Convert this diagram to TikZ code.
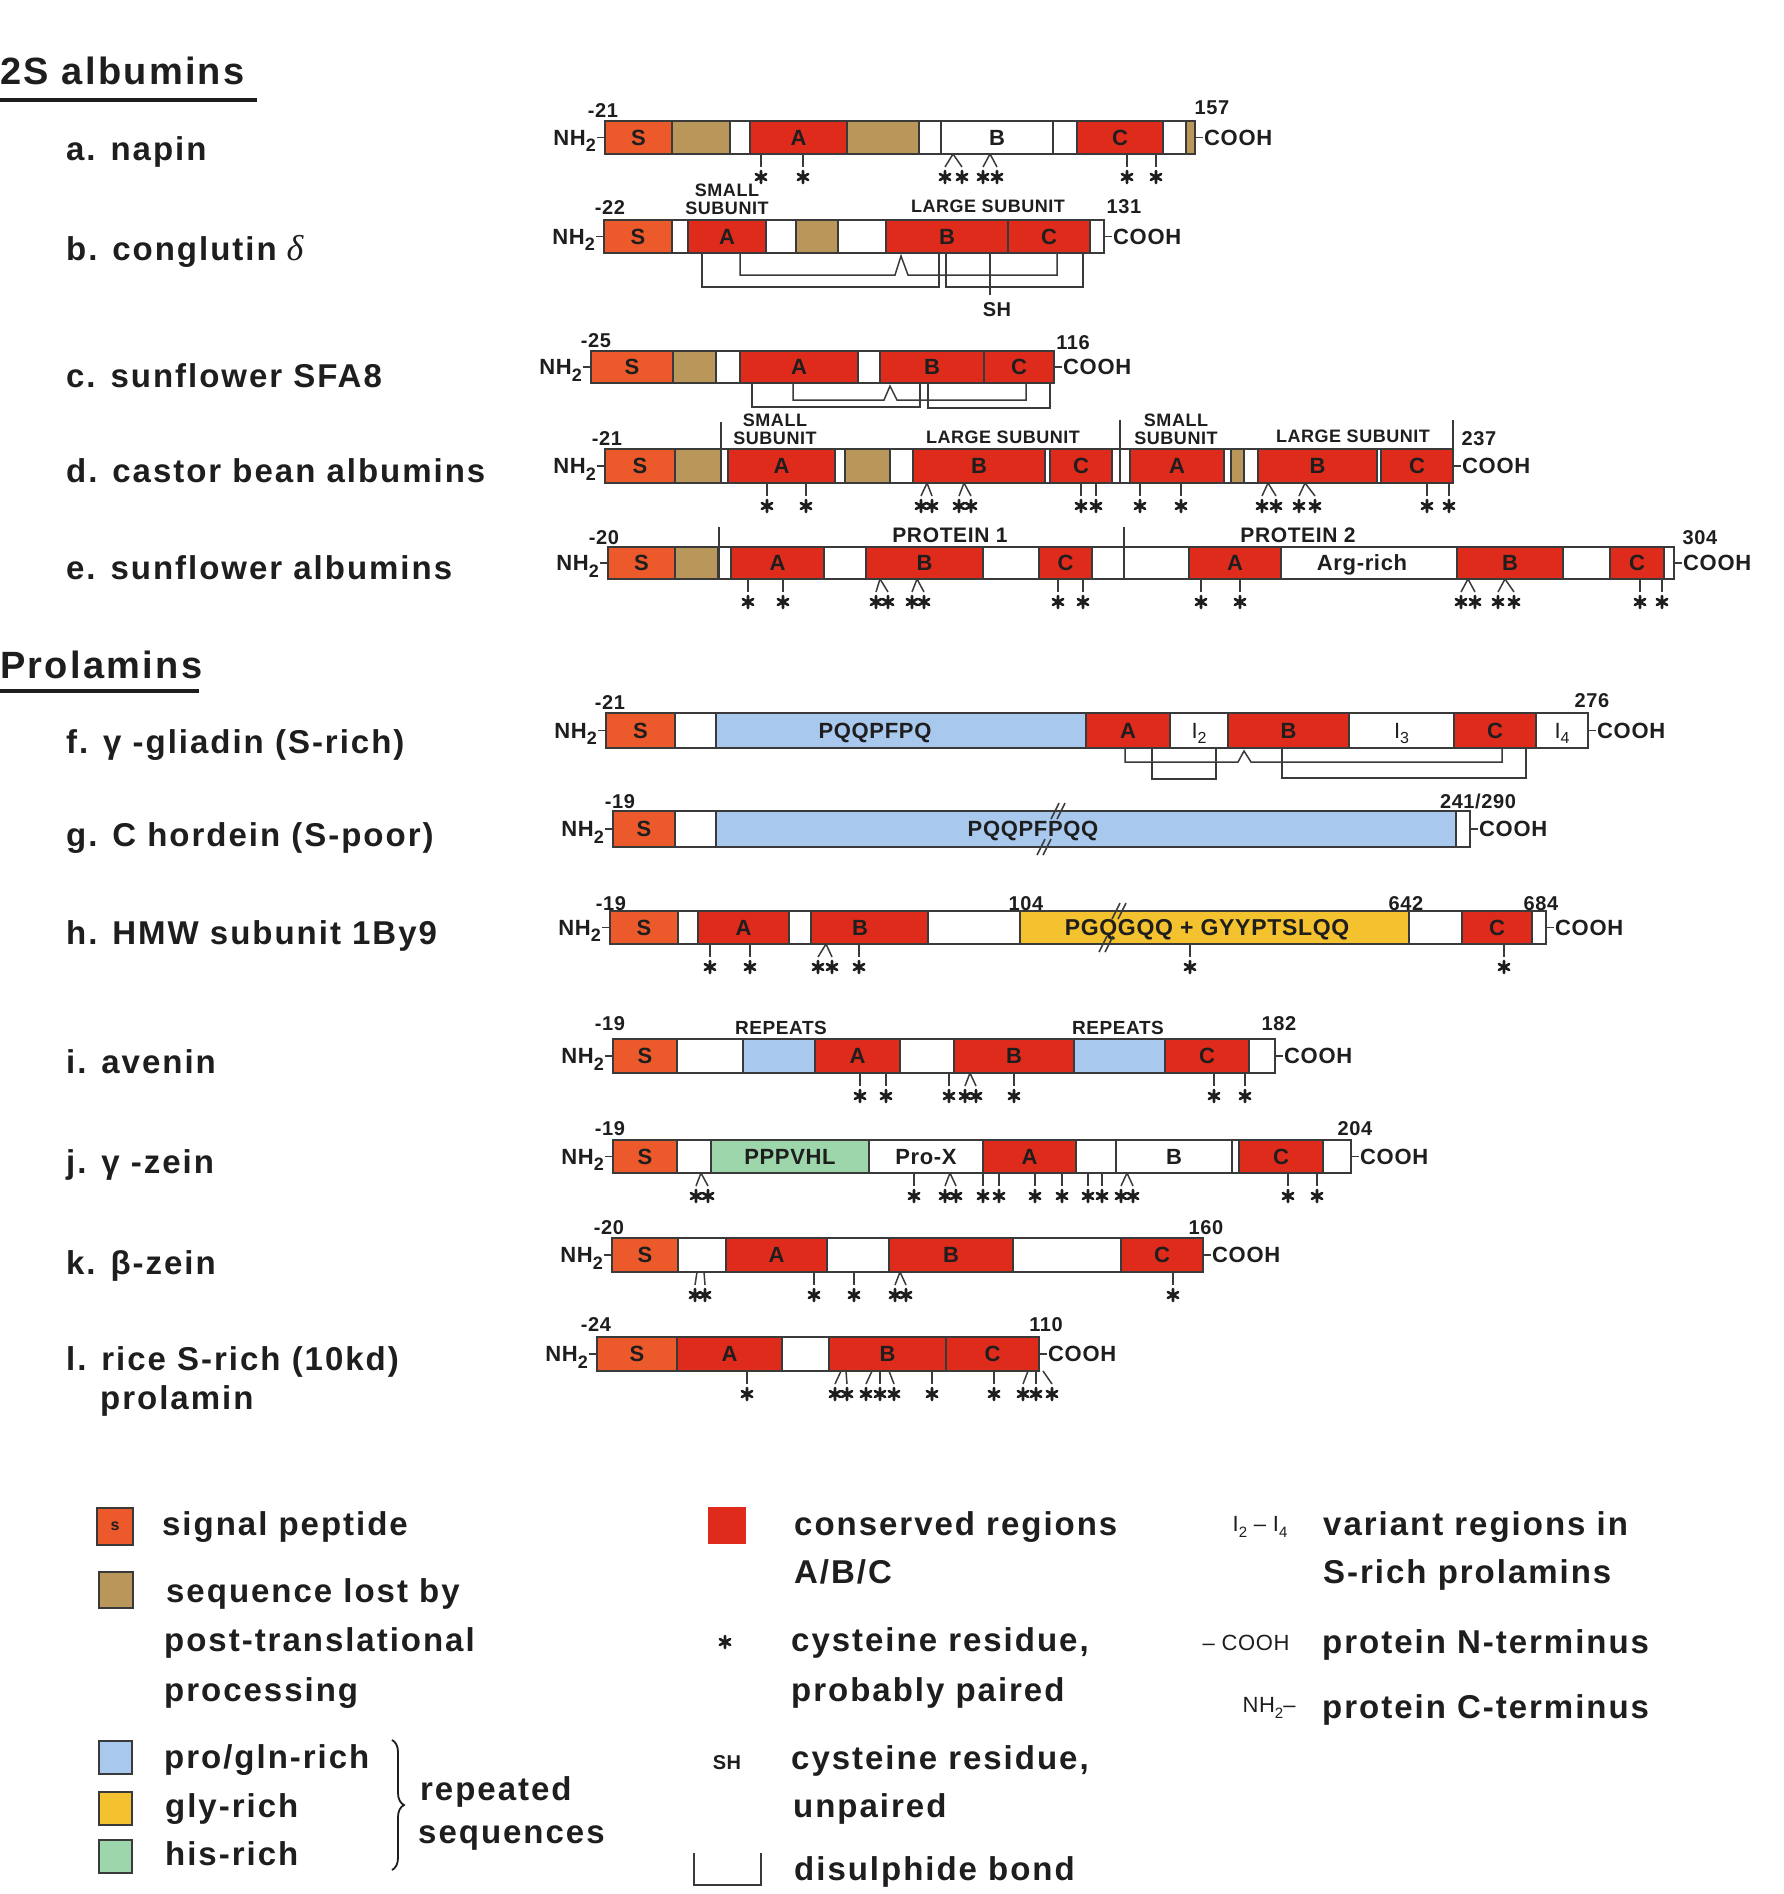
\documentclass[tikz,border=0pt]{standalone}
\usepackage{fontspec}
\setmainfont{Liberation Sans}
\newfontfamily\labfont{Liberation Sans}[LetterSpace=6]
\newfontfamily\barfont{Liberation Sans}[LetterSpace=3]
\newfontfamily\grkfont{Liberation Serif}
\usetikzlibrary{decorations.pathreplacing}

\definecolor{ink}{HTML}{1E1E1E}
\definecolor{ol}{HTML}{3A3A3A}
\definecolor{sig}{HTML}{EC5A2C}
\definecolor{con}{HTML}{DF2B1B}
\definecolor{tanc}{HTML}{B9975B}
\definecolor{blu}{HTML}{A8C8EE}
\definecolor{yel}{HTML}{F4C22E}
\definecolor{grn}{HTML}{9DD6AA}

\newcounter{nn}
\newcommand\setrow[2]{\def\yt{#1}\def\yb{#2}\pgfmathsetmacro\yc{(#1+#2)/2}}
\newcommand\segm[4]{\filldraw[segst, fill=#1] (#2,\yt) rectangle (#3,\yb);
  \ifx\relax#4\relax\else\stepcounter{nn}\node[btx] (t\arabic{nn}) at ({(#2+#3)/2},\yc) {#4};\fi}
\newcommand\starat[2]{\begin{scope}[shift={(#1,#2)}]\draw[stl] (90:6) -- (270:6) (30:6) -- (210:6) (150:6) -- (330:6);\end{scope}}
\newcommand\cys[2]{\draw[cyl] (#1,\yb) -- (#2,\yb+13); \starat{#2}{\yb+23}}
\newcommand\termL[1]{\stepcounter{nn}\node[btx, anchor=east, inner sep=1pt] (nh\arabic{nn}) at (#1-8,\yc) {NH\raisebox{-0.28em}{\fontsize{18}{18}\selectfont 2}};
  \draw[cyl] (nh\arabic{nn}.east) -- (#1,\yc);}
\newcommand\termR[1]{\stepcounter{nn}\node[btx, anchor=west, inner sep=1pt] (co\arabic{nn}) at (#1+8,\yc) {COOH};
  \draw[cyl] (#1,\yc) -- (co\arabic{nn}.west);}
\newcommand\numlab[3]{\stepcounter{nn}\node[nmf] (nm\arabic{nn}) at (#1,#2) {#3};}
\newcommand\brkmark[2]{\draw[ol, line width=1.6pt] (#1-7,#2+8) -- (#1+1,#2-8) (#1-1,#2+8) -- (#1+7,#2-8);}

\tikzset{
  segst/.style={draw=ol, line width=1.8pt},
  btx/.style={font=\barfont\bfseries\fontsize{22}{22}\selectfont, text=ink, inner sep=0pt, text height=15.7pt, text depth=0pt},
  nmf/.style={font=\barfont\bfseries\fontsize{20}{20}\selectfont, text=ink, inner sep=0pt, text height=14.3pt, text depth=0pt},
  sub/.style={font=\barfont\bfseries\fontsize{18}{18}\selectfont, text=ink, inner sep=0pt, align=center},
  lab/.style={font=\labfont\bfseries\fontsize{33}{38}\selectfont, text=ink, anchor=mid west, inner sep=0pt, yshift=-8pt},
  hdr/.style={font=\labfont\bfseries\fontsize{38}{42}\selectfont, text=ink, anchor=mid west, inner sep=0pt, yshift=-10pt},
  sml/.style={font=\barfont\fontsize{22}{22}\selectfont, text=ink, inner sep=0pt},
  cyl/.style={draw=ol, line width=1.5pt},
  stl/.style={draw=ink, line width=2.6pt, line cap=round},
  bd/.style={draw=ol, line width=1.5pt},
}

\begin{document}
\begin{tikzpicture}[x=1pt, y=-1pt]
\useasboundingbox (0,0) rectangle (1783,1894);
\fill[white] (0,0) rectangle (1783,1894);

% ---------- headings and labels
\node[hdr] (h1) at (0,72) {2S albumins};
\draw[ink, line width=4pt] (0,100) -- (257,100);
\node[hdr] (h2) at (0,666) {Prolamins};
\draw[ink, line width=4pt] (0,691) -- (199,691);

\node[lab] (la) at (66,150) {a. napin};
\node[lab] (lb) at (66,250) {b. conglutin\hspace{10pt}{\grkfont\itshape\mdseries\fontsize{36}{36}\selectfont δ}};
\node[lab] (lc) at (66,377) {c. sunflower SFA8};
\node[lab] (ld) at (66,472) {d. castor bean albumins};
\node[lab] (le) at (66,569) {e. sunflower albumins};
\node[lab] (lf) at (66,743) {f. γ -gliadin (S-rich)};
\node[lab] (lg) at (66,836) {g. C hordein (S-poor)};
\node[lab] (lh) at (66,934) {h. HMW subunit 1By9};
\node[lab] (li) at (66,1063) {i. avenin};
\node[lab] (lj) at (66,1163) {j. γ -zein};
\node[lab] (lk) at (66,1264) {k. β-zein};
\node[lab] (ll) at (66,1360) {l. rice S-rich (10kd)};
\node[lab] (ll2) at (100,1399) {prolamin};

% ---------- a. napin
\setrow{121}{154}
\termL{605}
\segm{sig}{605}{672}{S}
\segm{tanc}{672}{730}{}
\segm{white}{730}{750}{}
\segm{con}{750}{847}{A}
\segm{tanc}{847}{919}{}
\segm{white}{919}{941}{}
\segm{white}{941}{1053}{B}
\segm{white}{1053}{1077}{}
\segm{con}{1077}{1163}{C}
\segm{white}{1163}{1186}{}
\segm{tanc}{1186}{1195}{}
\termR{1195}
\numlab{603}{110}{-21}
\numlab{1212}{107}{157}
\cys{761}{761}\cys{803}{803}
\cys{953}{945}\cys{953}{962}
\cys{990}{983}\cys{990}{997}
\cys{1127}{1127}\cys{1156}{1156}

% ---------- b. conglutin delta
\setrow{220}{253}
\termL{604}
\segm{sig}{604}{672}{S}
\segm{white}{672}{688}{}
\segm{con}{688}{766}{A}
\segm{white}{766}{796}{}
\segm{tanc}{796}{838}{}
\segm{white}{838}{886}{}
\segm{con}{886}{1008}{B}
\segm{con}{1008}{1090}{C}
\segm{white}{1090}{1104}{}
\termR{1104}
\numlab{610}{207}{-22}
\node[sub] (sb1) at (727,199) {SMALL\\SUBUNIT};
\node[sub] (lb1) at (988,206) {LARGE SUBUNIT};
\numlab{1124}{206}{131}
\draw[bd] (702,\yb) -- (702,287) -- (939,287) -- (939,\yb);
\draw[bd] (740,\yb) -- (740,275) -- (895,275) -- (901,256) -- (908,275) -- (1057,275) -- (1057,\yb);
\draw[bd] (946,\yb) -- (946,287) -- (1083,287) -- (1083,\yb);
\draw[bd] (990,\yb) -- (990,295);
\node[nmf] (sh) at (997,309) {SH};

% ---------- c. sunflower SFA8
\setrow{351}{383}
\termL{591}
\segm{sig}{591}{673}{S}
\segm{tanc}{673}{716}{}
\segm{white}{716}{740}{}
\segm{con}{740}{858}{A}
\segm{white}{858}{880}{}
\segm{con}{880}{984}{B}
\segm{con}{984}{1054}{C}
\termR{1054}
\numlab{596}{340}{-25}
\numlab{1073}{342}{116}
\draw[bd] (752,\yb) -- (752,407) -- (920,407) -- (920,\yb);
\draw[bd] (793,\yb) -- (793,400) -- (884,400) -- (890,386) -- (897,400) -- (1026,400) -- (1026,\yb);
\draw[bd] (928,\yb) -- (928,408) -- (1050,408) -- (1050,\yb);

% ---------- d. castor bean albumins
\setrow{449}{483}
\termL{605}
\segm{sig}{605}{675}{S}
\segm{tanc}{675}{721}{}
\segm{white}{721}{728}{}
\segm{con}{728}{835}{A}
\segm{white}{835}{845}{}
\segm{tanc}{845}{890}{}
\segm{white}{890}{913}{}
\segm{con}{913}{1045}{B}
\segm{white}{1045}{1050}{}
\segm{con}{1050}{1112}{C}
\segm{white}{1112}{1120}{}
\segm{white}{1120}{1130}{}
\segm{con}{1130}{1224}{A}
\segm{white}{1224}{1231}{}
\segm{tanc}{1231}{1244}{}
\segm{white}{1244}{1258}{}
\segm{con}{1258}{1377}{B}
\segm{white}{1377}{1381}{}
\segm{con}{1381}{1453}{C}
\termR{1453}
\draw[bd] (721,422) -- (721,\yb);
\draw[bd] (1120,420) -- (1120,\yb);
\draw[bd] (1453,420) -- (1453,\yb);
\numlab{607}{438}{-21}
\numlab{1479}{438}{237}
\node[sub] (sb2) at (775,429) {SMALL\\SUBUNIT};
\node[sub] (sb3) at (1176,429) {SMALL\\SUBUNIT};
\node[sub] (lb2) at (1003,437) {LARGE SUBUNIT};
\node[sub] (lb3) at (1353,436) {LARGE SUBUNIT};
\cys{767}{767}\cys{806}{806}
\cys{927}{921}\cys{927}{932}\cys{964}{959}\cys{964}{971}
\cys{1081}{1081}\cys{1096}{1096}
\cys{1140}{1140}\cys{1181}{1181}
\cys{1268}{1262}\cys{1268}{1276}\cys{1305}{1299}\cys{1305}{1315}
\cys{1427}{1427}\cys{1449}{1449}

% ---------- e. sunflower albumins
\setrow{547}{579}
\termL{608}
\segm{sig}{608}{675}{S}
\segm{tanc}{675}{718}{}
\segm{white}{718}{731}{}
\segm{con}{731}{824}{A}
\segm{white}{824}{866}{}
\segm{con}{866}{983}{B}
\segm{white}{983}{1039}{}
\segm{con}{1039}{1092}{C}
\segm{white}{1092}{1124}{}
\segm{white}{1124}{1189}{}
\segm{con}{1189}{1281}{A}
\segm{white}{1281}{1457}{}
\node[btx] (arg) at (1362,\yc) {Arg-rich};
\segm{con}{1457}{1563}{B}
\segm{white}{1563}{1610}{}
\segm{con}{1610}{1664}{C}
\segm{white}{1664}{1674}{}
\termR{1674}
\draw[bd] (719,527) -- (719,\yb);
\draw[bd] (1124,527) -- (1124,\yb);
\numlab{604}{537}{-20}
\numlab{1700}{537}{304}
\node[sub, font=\barfont\bfseries\fontsize{21}{21}\selectfont] (p1) at (950,535) {PROTEIN 1};
\node[sub, font=\barfont\bfseries\fontsize{21}{21}\selectfont] (p2) at (1298,535) {PROTEIN 2};
\cys{748}{748}\cys{783}{783}
\cys{880}{876}\cys{880}{888}\cys{917}{912}\cys{917}{924}
\cys{1058}{1058}\cys{1083}{1083}
\cys{1201}{1201}\cys{1240}{1240}
\cys{1468}{1461}\cys{1468}{1475}\cys{1505}{1498}\cys{1505}{1514}
\cys{1640}{1640}\cys{1662}{1662}

% ---------- f. gamma-gliadin
\setrow{713}{748}
\termL{606}
\segm{sig}{606}{675}{S}
\segm{white}{675}{716}{}
\segm{blu}{716}{1086}{}
\node[btx] (pq1) at (875,\yc) {PQQPFPQ};
\segm{con}{1086}{1170}{A}
\segm{white}{1170}{1228}{\mdseries I\raisebox{-0.25em}{\fontsize{16}{16}\selectfont 2}}
\segm{con}{1228}{1349}{B}
\segm{white}{1349}{1454}{\mdseries I\raisebox{-0.25em}{\fontsize{16}{16}\selectfont 3}}
\segm{con}{1454}{1536}{C}
\segm{white}{1536}{1588}{\mdseries I\raisebox{-0.25em}{\fontsize{16}{16}\selectfont 4}}
\termR{1588}
\numlab{610}{702}{-21}
\numlab{1592}{700}{276}
\draw[bd] (1125,\yb) -- (1125,762) -- (1238,762) -- (1244,751) -- (1251,762) -- (1502,762) -- (1502,\yb);
\draw[bd] (1152,\yb) -- (1152,779) -- (1216,779) -- (1216,\yb);
\draw[bd] (1282,\yb) -- (1282,778) -- (1526,778) -- (1526,\yb);

% ---------- g. C hordein
\setrow{811}{847}
\termL{613}
\segm{sig}{613}{675}{S}
\segm{white}{675}{716}{}
\segm{blu}{716}{1456}{}
\node[btx] (pq2) at (1033,\yc) {PQQPFPQQ};
\segm{white}{1456}{1470}{}
\termR{1470}
\brkmark{1058}{811}\brkmark{1044}{847}
\numlab{620}{801}{-19}
\numlab{1478}{801}{241/290}

% ---------- h. HMW subunit
\setrow{911}{944}
\termL{610}
\segm{sig}{610}{678}{S}
\segm{white}{678}{698}{}
\segm{con}{698}{789}{A}
\segm{white}{789}{811}{}
\segm{con}{811}{928}{}
\node[btx] (hb) at (860,\yc) {B};
\segm{white}{928}{1020}{}
\segm{yel}{1020}{1409}{}
\node[btx, font=\barfont\bfseries\fontsize{23}{23}\selectfont] (pg) at (1207,\yc) {PGQGQQ + GYYPTSLQQ};
\segm{white}{1409}{1462}{}
\segm{con}{1462}{1532}{C}
\segm{white}{1532}{1546}{}
\termR{1546}
\brkmark{1119}{911}\brkmark{1106}{944}
\numlab{611}{903}{-19}
\numlab{1026}{903}{104}
\numlab{1406}{903}{642}
\numlab{1541}{903}{684}
\cys{710}{710}\cys{750}{750}
\cys{826}{818}\cys{826}{832}\cys{859}{859}
\cys{1190}{1190}\cys{1504}{1504}

% ---------- i. avenin
\setrow{1039}{1073}
\termL{613}
\segm{sig}{613}{677}{S}
\segm{white}{677}{743}{}
\segm{blu}{743}{815}{}
\segm{con}{815}{900}{A}
\segm{white}{900}{954}{}
\segm{con}{954}{1074}{B}
\segm{blu}{1074}{1165}{}
\segm{con}{1165}{1249}{C}
\segm{white}{1249}{1275}{}
\termR{1275}
\node[sub, font=\barfont\bfseries\fontsize{19}{19}\selectfont] (rp1) at (781,1028) {REPEATS};
\node[sub, font=\barfont\bfseries\fontsize{19}{19}\selectfont] (rp2) at (1118,1028) {REPEATS};
\numlab{610}{1023}{-19}
\numlab{1279}{1023}{182}
\cys{860}{860}\cys{886}{886}
\cys{949}{949}\cys{970}{965}\cys{970}{976}\cys{1014}{1014}
\cys{1214}{1214}\cys{1245}{1245}

% ---------- j. gamma-zein
\setrow{1140}{1173}
\termL{613}
\segm{sig}{613}{677}{S}
\segm{white}{677}{711}{}
\segm{grn}{711}{869}{PPPVHL}
\segm{white}{869}{983}{Pro-X}
\segm{con}{983}{1076}{A}
\segm{white}{1076}{1116}{}
\segm{white}{1116}{1232}{B}
\segm{white}{1232}{1239}{}
\segm{con}{1239}{1323}{C}
\segm{white}{1323}{1351}{}
\termR{1351}
\numlab{610}{1128}{-19}
\numlab{1355}{1128}{204}
\cys{701}{696}\cys{701}{708}
\cys{914}{914}\cys{950}{945}\cys{950}{956}
\cys{983}{983}\cys{999}{999}\cys{1035}{1035}\cys{1062}{1062}
\cys{1088}{1088}\cys{1102}{1102}\cys{1127}{1121}\cys{1127}{1133}
\cys{1288}{1288}\cys{1317}{1317}

% ---------- k. beta-zein
\setrow{1238}{1272}
\termL{612}
\segm{sig}{612}{678}{S}
\segm{white}{678}{726}{}
\segm{con}{726}{827}{A}
\segm{white}{827}{889}{}
\segm{con}{889}{1013}{B}
\segm{white}{1013}{1121}{}
\segm{con}{1121}{1203}{C}
\termR{1203}
\numlab{609}{1227}{-20}
\numlab{1206}{1227}{160}
\cys{697}{695}\cys{704}{705}
\cys{814}{814}\cys{854}{854}
\cys{900}{895}\cys{900}{906}
\cys{1173}{1173}

% ---------- l. rice prolamin
\setrow{1337}{1371}
\termL{597}
\segm{sig}{597}{677}{S}
\segm{con}{677}{782}{A}
\segm{white}{782}{829}{}
\segm{con}{829}{946}{B}
\segm{con}{946}{1039}{C}
\termR{1039}
\numlab{596}{1324}{-24}
\numlab{1046}{1324}{110}
\cys{747}{747}
\cys{841}{835}\cys{846}{847}
\cys{872}{866}\cys{880}{880}\cys{889}{894}
\cys{932}{932}\cys{994}{994}
\cys{1028}{1023}\cys{1036}{1036}\cys{1043}{1052}

% ---------- legend, left column
\filldraw[segst, fill=sig] (97,1508) rectangle (133,1545);
\node[font=\barfont\bfseries\fontsize{16}{16}\selectfont, text=ink, inner sep=0pt] (ls) at (115,1526) {s};
\node[lab] (t1) at (162,1525) {signal peptide};
\filldraw[segst, fill=tanc] (99,1572) rectangle (133,1608);
\node[lab] (t2) at (166,1592) {sequence lost by};
\node[lab] (t3) at (164,1641) {post-translational};
\node[lab] (t4) at (164,1691) {processing};
\filldraw[segst, fill=blu] (99,1741) rectangle (132,1774);
\node[lab] (t5) at (164,1758) {pro/gln-rich};
\filldraw[segst, fill=yel] (99,1792) rectangle (132,1825);
\node[lab] (t6) at (165,1807) {gly-rich};
\filldraw[segst, fill=grn] (99,1840) rectangle (132,1873);
\node[lab] (t7) at (165,1855) {his-rich};
\draw[ink, line width=1.8pt, decorate, decoration={brace, amplitude=12pt}] (392,1740) -- (392,1870);
\node[lab] (t8) at (420,1790) {repeated};
\node[lab] (t9) at (418,1833) {sequences};

% ---------- legend, middle column
\filldraw[draw=con, fill=con] (708,1507) rectangle (745,1543);
\node[lab] (m1) at (794,1525) {conserved regions};
\node[lab] (m2) at (794,1573) {A/B/C};
\starat{725}{1642}
\node[lab] (m3) at (791,1641) {cysteine residue,};
\node[lab] (m4) at (791,1691) {probably paired};
\node[nmf] (msh) at (727,1762) {SH};
\node[lab] (m5) at (791,1759) {cysteine residue,};
\node[lab] (m6) at (793,1807) {unpaired};
\draw[bd] (694,1853) -- (694,1885) -- (761,1885) -- (761,1853);
\node[lab] (m7) at (794,1870) {disulphide bond};

% ---------- legend, right column
\node[sml] (r0) at (1260,1527) {I\raisebox{-0.25em}{\fontsize{15}{15}\selectfont 2} – I\raisebox{-0.25em}{\fontsize{15}{15}\selectfont 4}};
\node[lab] (r1) at (1323,1525) {variant regions in};
\node[lab] (r2) at (1323,1573) {S-rich prolamins};
\node[sml] (r3) at (1246,1643) {– COOH};
\node[lab] (r4) at (1322,1643) {protein N-terminus};
\node[sml] (r5) at (1269,1708) {NH\raisebox{-0.25em}{\fontsize{15}{15}\selectfont 2}–};
\node[lab] (r6) at (1322,1708) {protein C-terminus};
\end{tikzpicture}
\end{document}
